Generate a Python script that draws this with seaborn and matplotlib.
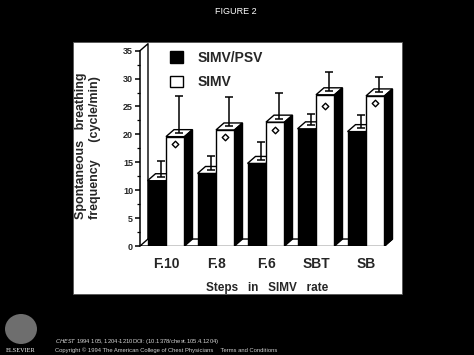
import matplotlib
matplotlib.use("Agg")
import matplotlib.pyplot as plt
import numpy as np
import pandas as pd
import seaborn as sns
from matplotlib.patches import Polygon, Rectangle, Ellipse

# ---- data ----
steps = ["F.10", "F.8", "F.6", "SBT", "SB"]
simv_psv = [11.7, 13.0, 14.8, 21.0, 20.5]
simv = [19.6, 20.8, 22.2, 27.1, 26.9]
simv_psv_err_top = [15.2, 16.1, 18.7, 23.7, 23.4]
simv_err_top = [26.8, 26.7, 27.5, 31.1, 30.3]
simv_diamond = [18.3, 19.5, 20.7, 25.0, 25.6]
y_ticks = [0, 5, 10, 15, 20, 25, 30, 35]

series = ["SIMV/PSV", "SIMV"]
colors = {"SIMV/PSV": "black", "SIMV": "white"}

df = pd.DataFrame({
    "step": steps * 2,
    "group": [series[0]] * len(steps) + [series[1]] * len(steps),
    "value": simv_psv + simv,
})

sns.set_style("white")
plt.rcParams["font.family"] = ["Liberation Sans", "DejaVu Sans"]

W, H = 474, 355
fig = plt.figure(figsize=(W / 100, H / 100), dpi=100, facecolor="black")

# white picture panel of the slide
fig.patches.append(Rectangle((73 / W, 1 - 294 / H), (402 - 73) / W, (294 - 42) / H,
                             transform=fig.transFigure, facecolor="white",
                             edgecolor="#555555", lw=0.6, zorder=-1))

x_left, x_right = -0.52, 4.72
y_top = 37.0
px_unit_y = 5.58
ax = fig.add_axes([140 / W, (H - 246) / H, (x_right - x_left) * 50 / W,
                   y_top * px_unit_y / H])
ax.set_facecolor("none")
ax.set_zorder(2)

bw = 0.37          # front width of a single bar
ddx, ddy = 0.16, 1.25   # depth offset of the pseudo-3D bars
lw = 1.0

sns.barplot(data=df, x="step", y="value", hue="group", order=steps,
            hue_order=series, palette=colors, edgecolor="black", linewidth=lw,
            width=2 * bw, gap=0, errorbar=None, ax=ax, zorder=2)

for k, cont in enumerate(ax.containers):
    for p in cont.patches:
        p.set_zorder(2 + 2 * k)

# top and side faces
for k, cont in enumerate(ax.containers):
    for p in cont.patches:
        x0 = p.get_x()
        x1 = x0 + p.get_width()
        h = p.get_height()
        top = Polygon([(x0, h), (x1, h), (x1 + ddx, h + ddy), (x0 + ddx, h + ddy)],
                      closed=True, facecolor="white", edgecolor="black", lw=lw,
                      zorder=2.5 + 2 * k)
        side = Polygon([(x1, 0), (x1 + ddx, ddy), (x1 + ddx, h + ddy), (x1, h)],
                       closed=True, facecolor="black", edgecolor="black", lw=lw,
                       zorder=2.5 + 2 * k)
        ax.add_patch(top)
        ax.add_patch(side)

# error bars (upper only, from the middle of the top face)
pos = np.arange(len(steps))
for k, (vals, tops) in enumerate([(simv_psv, simv_psv_err_top), (simv, simv_err_top)]):
    xc = pos + (k - 0.5) * bw + ddx / 2
    y0 = np.array(vals) + ddy / 2
    up = np.array(tops) - y0
    ax.errorbar(xc, y0, yerr=[np.zeros_like(up), up], fmt="none", ecolor="black",
                elinewidth=1.1, capsize=3, capthick=1.1, zorder=7)

# diamonds in the SIMV bars
ax.scatter(pos + 0.5 * bw, simv_diamond, marker="D", s=11, facecolor="white",
           edgecolor="black", linewidth=1.0, zorder=8)

# floor and back wall
floor_end = pos[-1] + bw
ax.add_patch(Polygon([(x_left, 0), (floor_end, 0), (floor_end + ddx, ddy),
                      (x_left + ddx, ddy)], closed=True, facecolor="white",
                     edgecolor="black", lw=lw, zorder=1))
ax.plot([x_left, x_left + ddx, x_left + ddx], [35, 35 + ddy, ddy], color="black",
        lw=1.0, zorder=1, clip_on=False)

ax.set_xlim(x_left, x_right)
ax.set_ylim(0, y_top)
for s in ["top", "right", "bottom"]:
    ax.spines[s].set_visible(False)
ax.spines["left"].set_bounds(0, 35)
ax.spines["left"].set_linewidth(1.1)
ax.spines["left"].set_color("black")
ax.set_yticks(y_ticks)
ax.set_yticks(np.arange(2.5, 35, 5), minor=True)
ax.tick_params(axis="y", which="major", direction="out", length=3.5, width=1.1,
               color="black", labelsize=6.5, pad=1.5, left=True)
ax.tick_params(axis="y", which="minor", direction="out", length=2, width=0.9,
               color="black", left=True)
for t in ax.get_yticklabels():
    t.set_fontweight("bold")
ax.tick_params(axis="x", length=0, labelsize=10, pad=8)
for t in ax.get_xticklabels():
    t.set_fontweight("bold")
ax.set_xlabel("")
ax.set_ylabel("")

sns.move_legend(ax, "upper left", bbox_to_anchor=(170 / W, 1 - 51 / H),
                bbox_transform=fig.transFigure, frameon=False, title=None,
                fontsize=10, handlelength=0.9, handleheight=0.9,
                handletextpad=1.1, labelspacing=0.75, borderpad=0,
                borderaxespad=0)
for t in ax.get_legend().get_texts():
    t.set_fontweight("bold")

# axis titles
fig.text(81 / W, 1 - 146 / H, "Spontaneous   breathing", rotation=90,
         ha="center", va="center", fontsize=9, fontweight="bold")
fig.text(95 / W, 1 - 148 / H, "frequency     (cycle/min)", rotation=90,
         ha="center", va="center", fontsize=9, fontweight="bold")
fig.text(267 / W, 1 - 288 / H, "Steps   in   SIMV   rate", ha="center",
         va="center", fontsize=8.5, fontweight="bold")

# slide decorations
fig.text(236 / W, 1 - 12 / H, "FIGURE 2", ha="center", va="center",
         fontsize=6.5, color="white")
fig.patches.append(Ellipse((21 / W, 1 - 329 / H), 32 / W, 30 / H,
                           transform=fig.transFigure, facecolor="#6e6e6e",
                           edgecolor="none"))
fig.text(21 / W, 1 - 350 / H, "ELSEVIER", ha="center", va="center",
         fontsize=4.5, color="white", family="Liberation Serif")
fig.text(55 / W, 1 - 341 / H,
         r"$\it{CHEST}$ 1994 105, 1204-1210DOI: (10.1378/chest.105.4.1204)",
         ha="left", va="center", fontsize=4.2, color="#d0d0d0")
fig.text(55 / W, 1 - 350 / H,
         "Copyright \u00a9 1994 The American College of Chest Physicians",
         ha="left", va="center", fontsize=4.2, color="#d0d0d0")
fig.text(219 / W, 1 - 350 / H, " Terms and Conditions", ha="left",
         va="center", fontsize=4.2, color="#d0d0d0")

fig.savefig("out.png", dpi=100, facecolor="black")
